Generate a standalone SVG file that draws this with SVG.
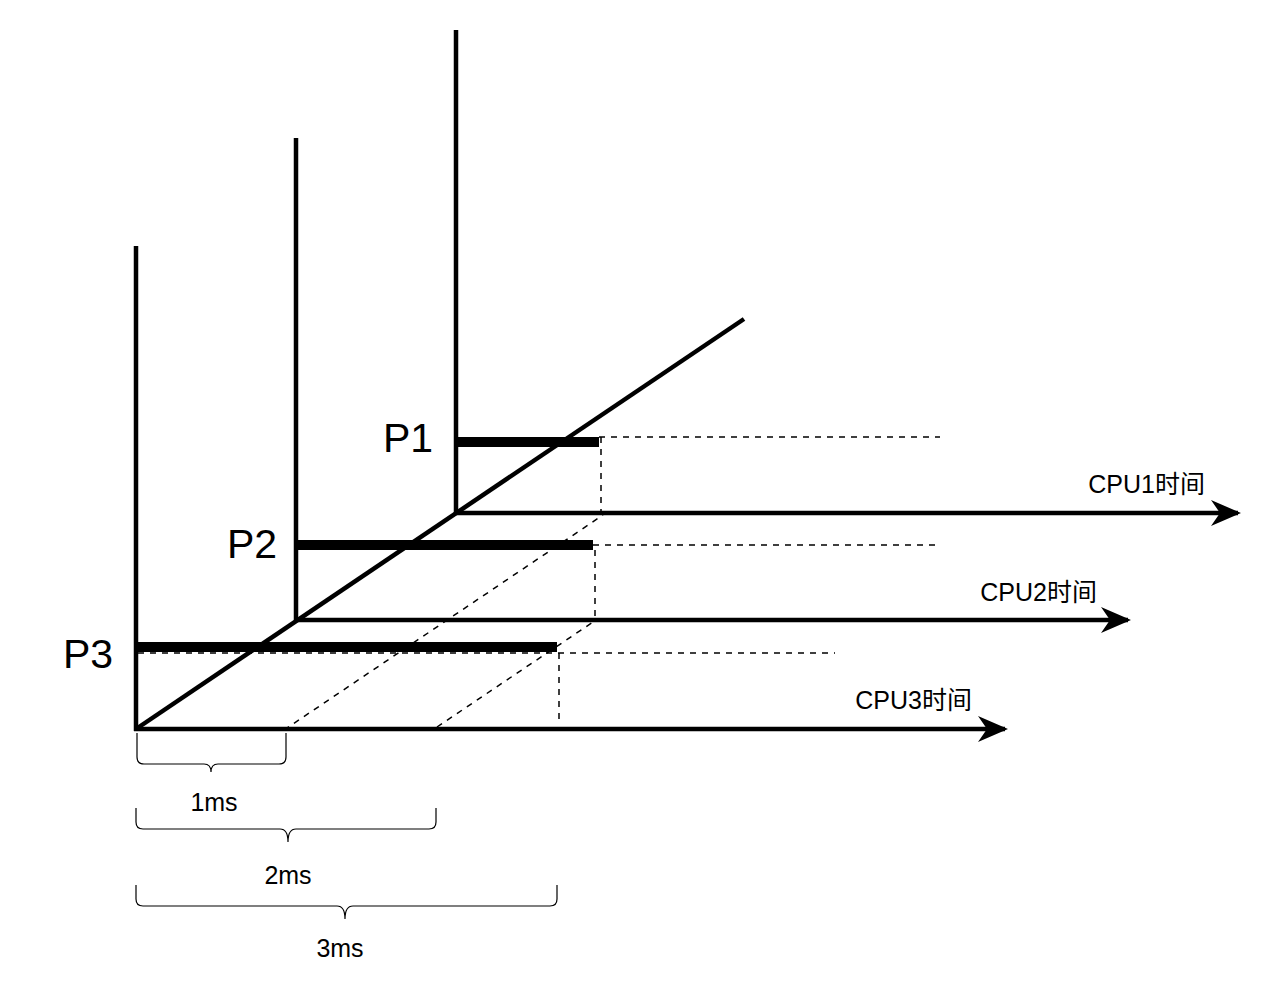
<svg xmlns="http://www.w3.org/2000/svg" width="1278" height="1000" viewBox="0 0 1278 1000">
<style>
.ax{stroke:#000;stroke-width:4.5;fill:none}
.bar{stroke:#000;stroke-width:10;fill:none}
.d{stroke:#000;stroke-width:1.5;stroke-dasharray:6 6;fill:none}
.br{stroke:#000;stroke-width:1.2;fill:none}
.p{font-family:"Liberation Sans",Arial,sans-serif;font-size:41px;fill:#000}
.c{font-family:"Liberation Sans","Noto Sans CJK SC",sans-serif;font-size:25px;fill:#000}
.m{font-family:"Liberation Sans",Arial,sans-serif;font-size:25px;fill:#000;text-anchor:middle}
</style>
<defs>
<marker id="a" viewBox="0 0 10 10" refX="9" refY="5" markerWidth="30" markerHeight="26" markerUnits="userSpaceOnUse" orient="auto" preserveAspectRatio="none"><path d="M0,0 L10,5 L0,10 L3,5 Z" fill="#000"/></marker></defs>
<g id="connectors">
<line class="ax" x1="136" y1="246" x2="136" y2="731"/>
<line class="ax" x1="296" y1="138" x2="296" y2="620"/>
<line class="ax" x1="456" y1="30" x2="456" y2="513"/>
<line class="ax" x1="136" y1="729" x2="744" y2="319"/>
<line class="ax" x1="134" y1="729" x2="1005" y2="729" marker-end="url(#a)"/>
<line class="ax" x1="296" y1="620" x2="1128" y2="620" marker-end="url(#a)"/>
<line class="ax" x1="456" y1="513" x2="1238" y2="513" marker-end="url(#a)"/>
<line class="d" x1="599" y1="437" x2="940" y2="437"/>
<line class="d" x1="593" y1="545" x2="940" y2="545"/>
<line class="d" x1="138" y1="653" x2="835" y2="653"/>
<line class="d" x1="601" y1="437" x2="601" y2="513"/>
<line class="d" x1="595" y1="550" x2="595" y2="620"/>
<line class="d" x1="559" y1="653" x2="559" y2="724"/>
<line class="d" x1="284" y1="730" x2="603" y2="515"/>
<line class="d" x1="437" y1="727" x2="596" y2="620"/>
</g>
<g id="bars">
<line class="bar" x1="456" y1="442" x2="599" y2="442"/>
<line class="bar" x1="296" y1="545" x2="593" y2="545"/>
<line class="bar" x1="136" y1="647" x2="557" y2="647"/>
</g>
<g id="labels">
<text class="p" x="383" y="452">P1</text>
<text class="p" x="227" y="558">P2</text>
<text class="p" x="63" y="668">P3</text>
<text class="c" x="1205" y="493" text-anchor="end">CPU1时间</text>
<text class="c" x="1097" y="601" text-anchor="end">CPU2时间</text>
<text class="c" x="972" y="709" text-anchor="end">CPU3时间</text>
</g>
<g id="braces">
<path class="br" d="M137,733 V757 Q137,764 144,764 H204 Q211,764 211,772 Q211,764 218,764 H279 Q286,764 286,757 V733"/>
<path class="br" d="M136,808 V822 Q136,829 143,829 H280 Q288,829 288,842 Q288,829 296,829 H429 Q436,829 436,822 V808"/>
<path class="br" d="M136,885 V899 Q136,906 143,906 H337 Q345,906 345,919 Q345,906 353,906 H550 Q557,906 557,899 V885"/>
<text class="m" x="214" y="811">1ms</text>
<text class="m" x="288" y="884">2ms</text>
<text class="m" x="340" y="957">3ms</text>
</g>
</svg>
